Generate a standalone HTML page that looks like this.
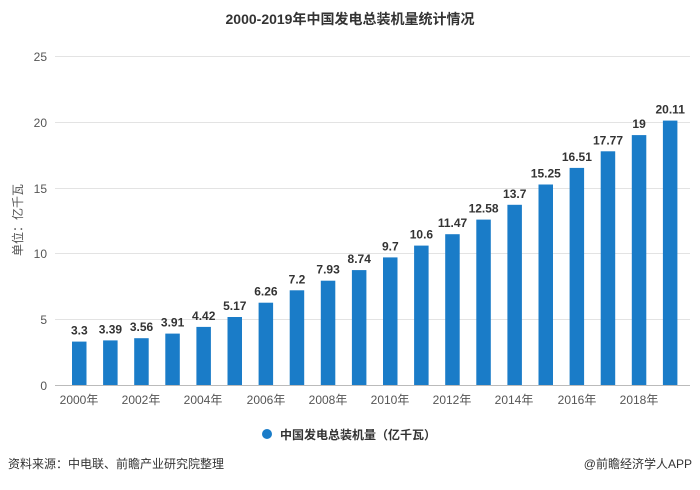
<!DOCTYPE html>
<html><head><meta charset="utf-8"><style>
body{margin:0;background:#fff;width:700px;height:485px;overflow:hidden;font-family:"Liberation Sans","Noto Sans CJK SC",sans-serif;}
</style></head><body>
<svg width="700" height="485" xmlns="http://www.w3.org/2000/svg" font-family="Liberation Sans, Noto Sans CJK SC, sans-serif">
<text x="350" y="24" text-anchor="middle" font-size="14" font-weight="bold" fill="#333">2000-2019年中国发电总装机量统计情况</text>
<g stroke="#e3e3e3" stroke-width="1">
<line x1="55" x2="690" y1="56.5" y2="56.5"/>
<line x1="55" x2="690" y1="122.5" y2="122.5"/>
<line x1="55" x2="690" y1="188.5" y2="188.5"/>
<line x1="55" x2="690" y1="253.5" y2="253.5"/>
<line x1="55" x2="690" y1="319.5" y2="319.5"/>
</g>
<line x1="55" x2="690" y1="385.5" y2="385.5" stroke="#bbb"/>
<g font-size="12" fill="#555" text-anchor="end">
<text x="47" y="61">25</text><text x="47" y="127">20</text><text x="47" y="193">15</text>
<text x="47" y="258">10</text><text x="47" y="324">5</text><text x="47" y="390">0</text>
</g>
<text transform="translate(22,220) rotate(-90)" text-anchor="middle" font-size="12" fill="#555">单位：亿千瓦</text>
<g fill="#1a7cc8">
<rect x="72" y="341.6" width="14.5" height="43.4"/>
<rect x="103.1" y="340.4" width="14.5" height="44.6"/>
<rect x="134.2" y="338.2" width="14.5" height="46.8"/>
<rect x="165.3" y="333.6" width="14.5" height="51.4"/>
<rect x="196.4" y="326.9" width="14.5" height="58.1"/>
<rect x="227.5" y="317" width="14.5" height="68"/>
<rect x="258.6" y="302.7" width="14.5" height="82.3"/>
<rect x="289.7" y="290.3" width="14.5" height="94.7"/>
<rect x="320.8" y="280.7" width="14.5" height="104.3"/>
<rect x="351.9" y="270.1" width="14.5" height="114.9"/>
<rect x="383" y="257.4" width="14.5" height="127.6"/>
<rect x="414.1" y="245.6" width="14.5" height="139.4"/>
<rect x="445.2" y="234.2" width="14.5" height="150.8"/>
<rect x="476.3" y="219.6" width="14.5" height="165.4"/>
<rect x="507.4" y="204.8" width="14.5" height="180.2"/>
<rect x="538.5" y="184.5" width="14.5" height="200.5"/>
<rect x="569.6" y="167.9" width="14.5" height="217.1"/>
<rect x="600.7" y="151.3" width="14.5" height="233.7"/>
<rect x="631.8" y="135.1" width="14.5" height="249.9"/>
<rect x="662.9" y="120.6" width="14.5" height="264.4"/>
</g>
<g font-size="12" font-weight="bold" fill="#333" text-anchor="middle">
<text x="79.3" y="334.6">3.3</text>
<text x="110.4" y="333.4">3.39</text>
<text x="141.5" y="331.2">3.56</text>
<text x="172.6" y="326.6">3.91</text>
<text x="203.7" y="319.9">4.42</text>
<text x="234.8" y="310">5.17</text>
<text x="265.9" y="295.7">6.26</text>
<text x="297" y="283.3">7.2</text>
<text x="328.1" y="273.7">7.93</text>
<text x="359.2" y="263.1">8.74</text>
<text x="390.3" y="250.4">9.7</text>
<text x="421.4" y="238.6">10.6</text>
<text x="452.5" y="227.2">11.47</text>
<text x="483.6" y="212.6">12.58</text>
<text x="514.7" y="197.8">13.7</text>
<text x="545.8" y="177.5">15.25</text>
<text x="576.9" y="160.9">16.51</text>
<text x="608" y="144.3">17.77</text>
<text x="639.1" y="128.1">19</text>
<text x="670.2" y="113.6">20.11</text>
</g>
<g font-size="12" fill="#555" text-anchor="middle">
<text x="79" y="404">2000年</text><text x="141" y="404">2002年</text><text x="203" y="404">2004年</text>
<text x="266" y="404">2006年</text><text x="328" y="404">2008年</text><text x="390" y="404">2010年</text>
<text x="452" y="404">2012年</text><text x="514" y="404">2014年</text><text x="577" y="404">2016年</text>
<text x="639" y="404">2018年</text>
</g>
<circle cx="267" cy="434" r="5" fill="#1a7cc8"/>
<text x="280" y="439" font-size="12" fill="#333" font-weight="bold">中国发电总装机量（亿千瓦）</text>
<text x="8" y="468" font-size="12" fill="#333">资料来源：中电联、前瞻产业研究院整理</text>
<text x="692" y="468" font-size="12" fill="#333" text-anchor="end">@前瞻经济学人APP</text>
</svg>
</body></html>
